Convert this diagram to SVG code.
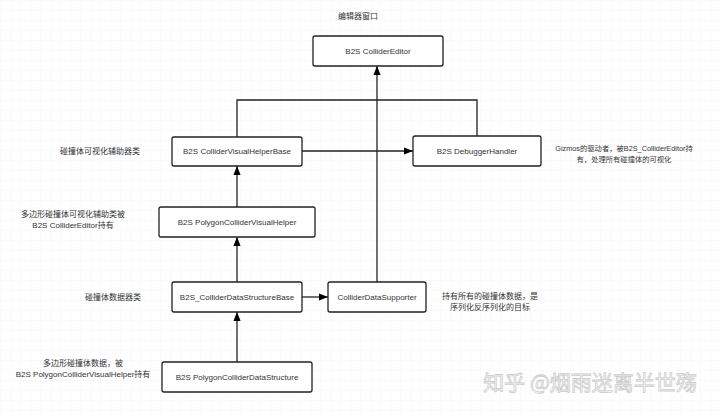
<svg xmlns="http://www.w3.org/2000/svg" width="720" height="416" viewBox="0 0 720 416">
<defs>
<pattern id="g" width="10" height="10" patternUnits="userSpaceOnUse"><path d="M10 0H0V10" fill="none" stroke="#ececec" stroke-width="0.6"/></pattern>
<marker id="a" viewBox="0 0 10 10" refX="10" refY="5" markerWidth="7" markerHeight="7" orient="auto"><path d="M0 1L10 5L0 9z" fill="#000"/></marker>
<style>
.n{fill:#fff;stroke:#222;stroke-width:1.3}
.t{font-family:"Liberation Sans","Noto Sans CJK SC",sans-serif;font-size:8px;fill:#333;text-anchor:middle}
.s{font-size:7.3px}
.c{fill:none;stroke:#222;stroke-width:1.3}
</style>
</defs>
<rect width="720" height="416" fill="#fff"/>
<rect width="720" height="416" fill="url(#g)"/>
<g id="connectors">
<path class="c" d="M377 282V66" marker-end="url(#a)"/>
<path class="c" d="M237 137V100H477V136"/>
<path class="c" d="M302 151H413" marker-end="url(#a)"/>
<path class="c" d="M237 207V166" marker-end="url(#a)"/>
<path class="c" d="M237 282V237" marker-end="url(#a)"/>
<path class="c" d="M302 297H328" marker-end="url(#a)"/>
<path class="c" d="M237 362V312" marker-end="url(#a)"/>
</g>
<g id="n1"><rect class="n" x="313" y="36" width="130" height="30" rx="2"/><text class="t" x="378" y="54">B2S ColliderEditor</text></g>
<g id="n2"><rect class="n" x="172" y="137" width="130" height="29" rx="2"/><text class="t" x="237" y="154">B2S ColliderVisualHelperBase</text></g>
<g id="n3"><rect class="n" x="413" y="136" width="128" height="30" rx="2"/><text class="t" x="477" y="154">B2S DebuggerHandler</text></g>
<g id="n4"><rect class="n" x="159" y="207" width="156" height="30" rx="2"/><text class="t" x="237" y="225">B2S PolygonColliderVisualHelper</text></g>
<g id="n5"><rect class="n" x="172" y="282" width="130" height="30" rx="2"/><text class="t" x="237" y="300">B2S_ColliderDataStructureBase</text></g>
<g id="n6"><rect class="n" x="328" y="282" width="98" height="30" rx="2"/><text class="t" x="377" y="300">ColliderDataSupporter</text></g>
<g id="n7"><rect class="n" x="162" y="362" width="150" height="30" rx="2"/><text class="t" x="237" y="380">B2S PolygonColliderDataStructure</text></g>
<g id="labels">
<text class="t" x="358" y="19">编辑器窗口</text>
<text class="t" x="100" y="154">碰撞体可视化辅助器类</text>
<text class="t s" x="624" y="151">Gizmos的驱动者，被B2S_ColliderEditor持</text>
<text class="t s" x="624" y="162">有，处理所有碰撞体的可视化</text>
<text class="t" x="73" y="217">多边形碰撞体可视化辅助类被</text>
<text class="t" x="73" y="228">B2S ColliderEditor持有</text>
<text class="t" x="113" y="300">碰撞体数据器类</text>
<text class="t" x="490" y="299">持有所有的碰撞体数据，是</text>
<text class="t" x="490" y="310">序列化反序列化的目标</text>
<text class="t" x="83" y="366">多边形碰撞体数据，被</text>
<text class="t" x="83" y="377">B2S PolygonColliderVisualHelper持有</text>
<text x="590" y="390" style="font-family:'Noto Sans CJK SC',sans-serif;font-size:21px;fill:#fff;stroke:#ccc;stroke-width:0.8;text-anchor:middle">知乎 @烟雨迷离半世殇</text>
</g>
</svg>
